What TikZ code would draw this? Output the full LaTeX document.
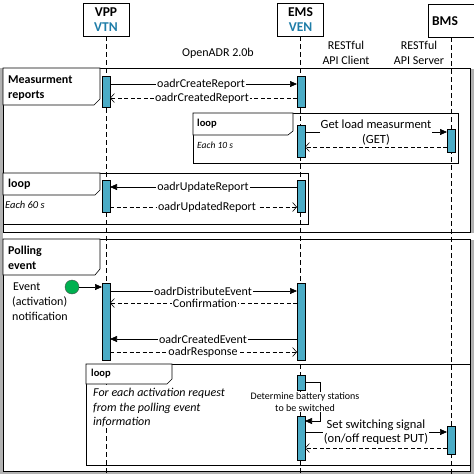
\documentclass[tikz,border=0pt]{standalone}
\usepackage{fontspec}
\setmainfont{Carlito}
\usetikzlibrary{arrows.meta}
\definecolor{barblue}{RGB}{75,172,198}
\definecolor{vtn}{RGB}{31,125,168}
\definecolor{dotgreen}{RGB}{0,176,80}
\tikzset{
 hdr/.style={draw, line width=0.7pt, fill=white, minimum width=46pt, minimum height=33pt, inner sep=0pt, align=center, font=\fontsize{13.5}{15}\selectfont\bfseries},
 life/.style={line width=0.8pt, dash pattern=on 5pt off 3pt},
 actbar/.style={draw, line width=0.5pt, fill=barblue, minimum width=7.5pt, inner sep=0pt, anchor=north},
 msg/.style={line width=0.6pt, -{Triangle[length=7pt,width=6pt]}},
 ret/.style={line width=0.6pt, dash pattern=on 4pt off 2.5pt, -{Straight Barb[length=4pt,width=9pt]}},
 lbl/.style={fill=white, inner sep=1pt, font=\fontsize{12}{14.5}\selectfont, align=center},
 frm/.style={draw, line width=0.6pt},
 tab/.style={draw, line width=0.6pt, fill=white},
 tabtxt/.style={anchor=west, inner sep=0pt, font=\fontsize{12}{14.5}\selectfont\bfseries, align=left},
 note/.style={anchor=west, inner sep=0pt, align=left, font=\fontsize{10.5}{13}\selectfont\itshape},
 plain/.style={inner sep=0pt, font=\fontsize{12}{15}\selectfont, align=center},
 shade/.style={fill=gray!60},
}
\begin{document}
\begin{tikzpicture}[x=1pt,y=-1pt]
\useasboundingbox (0,0) rectangle (474,474);
% gray edges
\fill[shade] (0,68) rectangle (2.5,474);
\fill[shade] (470.5,69) rectangle (474,232.5);
\fill[shade] (470.5,240) rectangle (474,474);
\fill[shade] (0,471.5) rectangle (474,474);
% outer frames
\draw[frm] (3,68) rectangle (470.5,232);
\draw[frm] (3,239) rectangle (470.5,471.5);
% inner frames
\draw[frm] (193,113) rectangle (458,163);
\draw[frm] (3,173) rectangle (308,224);
\draw[frm] (86,364) rectangle (470,465);
% tabs
\draw[tab] (3,68) -- (100,68) -- (100,99) -- (94,105) -- (3,105) -- cycle;
\draw[tab] (193,113) -- (293,113) -- (293,131) -- (288,135) -- (193,135) -- cycle;
\draw[tab] (3,173) -- (100,173) -- (100,190) -- (95,195) -- (3,195) -- cycle;
\draw[tab] (3,239) -- (100,239) -- (100,269) -- (95,275) -- (3,275) -- cycle;
% headers
\node[hdr] (vpp) at (106,19.5) {VPP\\\textcolor{vtn}{VTN}};
\node[hdr] (ems) at (300.5,19.5) {EMS\\\textcolor{vtn}{VEN}};
\node[hdr, minimum width=52pt] (bms) at (454,20.5) {};
\node[inner sep=0pt, font=\fontsize{13.5}{15}\selectfont\bfseries] (bmst) at (445,21) {BMS};
% lifelines
\draw[life] (vpp.south) -- (106,474);
\draw[life] (ems.south) -- (300.5,474);
\draw[life] (bms.south -| 451,0) -- (451,474);
% inner loop tab and text cover the VPP lifeline
\draw[tab] (86,364) -- (172,364) -- (172,379) -- (167,384) -- (86,384) -- cycle;
\node[tabtxt, font=\fontsize{10.5}{13}\selectfont\bfseries] (l3) at (91,374) {loop};
\node[note, fill=white, font=\fontsize{12}{14.5}\selectfont\itshape, inner sep=1pt] (l3n) at (92,408) {For each activation request\\from the polling event\\information};
% tab texts
\node[tabtxt] (mr) at (8,88) {Measurment\\reports};
\node[tabtxt, font=\fontsize{10.5}{13}\selectfont\bfseries] (l1) at (197,124) {loop};
\node[note, font=\fontsize{9.5}{12}\selectfont\itshape] (l1n) at (197,145) {Each 10 s};
\node[tabtxt] (l2) at (8,184) {loop};
\node[note] (l2n) at (5,205) {Each 60 s};
\node[tabtxt] (pe) at (8,258) {Polling\\event};
% column texts
\node[plain] (oadr) at (218,53) {OpenADR 2.0b};
\node[plain] (rc) at (346,52.5) {RESTful\\API Client};
\node[plain] (rs) at (419,52.5) {RESTful\\API Server};
% activation bars
\node[actbar, minimum height=31pt] (vb1) at (106,76) {};
\node[actbar, minimum height=31pt] (eb1) at (301,76) {};
\node[actbar, minimum height=32pt] (eb2) at (301,125) {};
\node[actbar, minimum height=23pt] (bb1) at (451,129) {};
\node[actbar, minimum height=32pt] (vb2) at (106,180) {};
\node[actbar, minimum height=32pt] (eb3) at (301,180) {};
\node[actbar, minimum height=77pt] (vb3) at (106,283) {};
\node[actbar, minimum height=77pt] (eb4) at (301,283) {};
\node[actbar, minimum height=15pt] (eb5) at (301,375) {};
\node[actbar, minimum height=44pt] (eb6) at (301,416) {};
\node[actbar, minimum height=28pt] (bb2) at (451,426) {};
% measurement messages
\draw[msg] (vb1.east |- 0,84) -- (eb1.west |- 0,84);
\node[lbl] (m1) at (201,84) {oadrCreateReport};
\draw[ret] (eb1.west |- 0,98) -- (vb1.east |- 0,98);
\node[lbl] (m2) at (202,98) {oadrCreatedReport};
\draw[msg] (eb2.east |- 0,132) -- (bb1.west |- 0,132);
\node[lbl, font=\fontsize{12.5}{15}\selectfont] (m3) at (376,132.5) {Get load measurment\\(GET)};
\draw[ret] (bb1.west |- 0,147) -- (eb2.east |- 0,147);
\draw[msg] (eb3.west |- 0,187) -- (vb2.east |- 0,187);
\node[lbl] (m4) at (203,187) {oadrUpdateReport};
\draw[ret] (vb2.east |- 0,207) -- (eb3.west |- 0,207);
\node[lbl] (m5) at (207,207) {oadrUpdatedReport};
% polling event
\node[circle, draw=black!70, fill=dotgreen, minimum size=14pt, inner sep=0pt] (start) at (72,287) {};
\draw[msg] (start) -- (vb3.west |- start);
\node[anchor=west, inner sep=0pt, font=\fontsize{12}{15}\selectfont, align=left] (evt) at (12,302) {\hspace*{1pt}Event\\(activation)\\notification};
\draw[msg] (vb3.east |- 0,291) -- (eb4.west |- 0,291);
\node[lbl] (m6) at (203,291) {oadrDistributeEvent};
\draw[ret] (eb4.west |- 0,303) -- (vb3.east |- 0,303);
\node[lbl] (m7) at (205,303) {Confirmation};
\draw[msg] (eb4.west |- 0,339) -- (vb3.east |- 0,339);
\node[lbl] (m8) at (203,339) {oadrCreatedEvent};
\draw[ret] (vb3.east |- 0,352) -- (eb4.west |- 0,352);
\node[lbl] (m9) at (203,352) {oadrResponse};
% self message
\draw[msg] (eb5.east |- 0,382) -| (320,421) -- (eb6.east |- 0,421);
\node[lbl, font=\fontsize{10}{12}\selectfont, inner sep=0.5pt] (m10) at (305,402) {Determine battery stations\\to be switched};
\draw[msg] (eb6.east |- 0,432) -- (bb2.west |- 0,432);
\node[lbl, font=\fontsize{12.5}{14}\selectfont, inner sep=0.5pt] (m11) at (376,432.5) {Set switching signal\\(on/off request PUT)};
\draw[ret] (bb2.west |- 0,448) -- (eb6.east |- 0,448);
\end{tikzpicture}
\end{document}
